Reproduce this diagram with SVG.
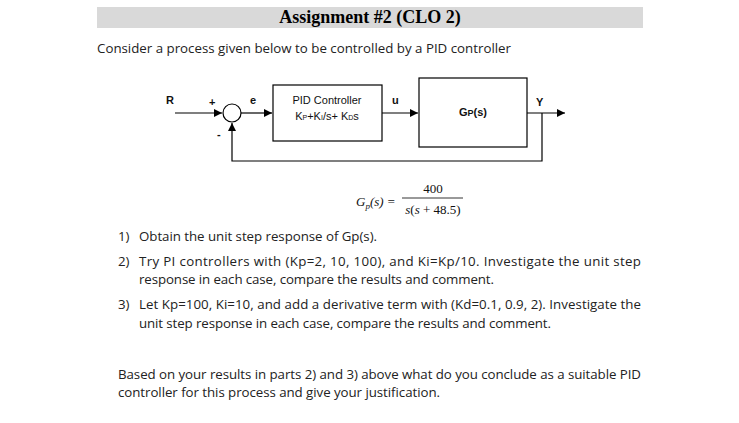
<svg xmlns="http://www.w3.org/2000/svg" width="739" height="423" viewBox="0 0 739 423">
<defs><marker id="a" viewBox="0 0 10 10" refX="10" refY="5" markerWidth="8" markerHeight="8" orient="auto" markerUnits="userSpaceOnUse"><path d="M0,0L10,5L0,10z" fill="#000"/></marker></defs>
<style>
.t{font-family:"Open Sans","Liberation Sans",sans-serif;font-size:13.3px;fill:#222}
.s{font-family:"Liberation Sans",sans-serif;font-size:11px;fill:#111}
.m{font-family:"Liberation Serif",serif;font-size:13px;fill:#111}
.l{stroke:#000;stroke-width:1.2;fill:none}
</style>
<rect width="739" height="423" fill="#fff"/>
<rect x="97" y="7" width="546" height="21" fill="#d9d9d9"/>
<text x="370" y="23" text-anchor="middle" font-family="Liberation Serif,serif" font-size="18" font-weight="bold">Assignment #2 (CLO 2)</text>
<text class="t" x="97" y="53" textLength="414">Consider a process given below to be controlled by a PID controller</text>
<g id="connectors">
<path class="l" d="M175,113H222" marker-end="url(#a)"/>
<path class="l" d="M241,113H272" marker-end="url(#a)"/>
<path class="l" d="M382,113H418" marker-end="url(#a)"/>
<path class="l" d="M527,113H565" marker-end="url(#a)"/>
<path class="l" d="M542,113V161H232V123" marker-end="url(#a)"/>
</g>
<g id="sum"><circle class="l" cx="232" cy="113" r="9"/></g>
<g id="labels">
<text class="s" x="166" y="104" font-weight="bold">R</text>
<text class="s" x="209" y="106" font-weight="bold">+</text>
<text class="s" x="250" y="104" font-weight="bold">e</text>
<text class="s" x="217" y="138" font-weight="bold">-</text>
<text class="s" x="392" y="104" font-weight="bold">u</text>
<text class="s" x="536" y="106" font-weight="bold">Y</text>
</g>
<g id="pid"><rect class="l" x="273" y="85" width="109" height="56"/>
<text class="s" x="327" y="104" text-anchor="middle">PID Controller</text>
<text class="s" x="327" y="120" text-anchor="middle">K<tspan font-size="7">P</tspan>+K<tspan font-size="7">I</tspan>/s+ K<tspan font-size="7">D</tspan>s</text></g>
<g id="gp"><rect class="l" x="419" y="78" width="108" height="69"/>
<text class="s" x="473" y="116" text-anchor="middle" font-size="12" font-weight="bold">G<tspan font-size="9">P</tspan>(s)</text></g>
<g id="eq">
<text class="m" x="356" y="206" font-style="italic">G<tspan font-size="9" dy="3">p</tspan><tspan dy="-3">(s) =</tspan></text>
<line x1="402" y1="198" x2="463" y2="198" stroke="#000" stroke-width="0.8"/>
<text class="m" x="433" y="193" text-anchor="middle">400</text>
<text class="m" x="433" y="214" text-anchor="middle"><tspan font-style="italic">s</tspan>(<tspan font-style="italic">s</tspan> + 48.5)</text>
</g>
<text class="t" x="118" y="241">1)</text><text class="t" x="139" y="241" textLength="238">Obtain the unit step response of Gp(s).</text>
<text class="t" x="118" y="266">2)</text><text class="t" x="139" y="266" textLength="502">Try PI controllers with (Kp=2, 10, 100), and Ki=Kp/10. Investigate the unit step</text>
<text class="t" x="139" y="284" textLength="355">response in each case, compare the results and comment.</text>
<text class="t" x="118" y="309">3)</text><text class="t" x="139" y="309" textLength="502">Let Kp=100, Ki=10, and add a derivative term with (Kd=0.1, 0.9, 2). Investigate the</text>
<text class="t" x="139" y="328" textLength="412">unit step response in each case, compare the results and comment.</text>
<text class="t" x="118" y="379" textLength="523">Based on your results in parts 2) and 3) above what do you conclude as a suitable PID</text>
<text class="t" x="118" y="397" textLength="322">controller for this process and give your justification.</text>
</svg>
